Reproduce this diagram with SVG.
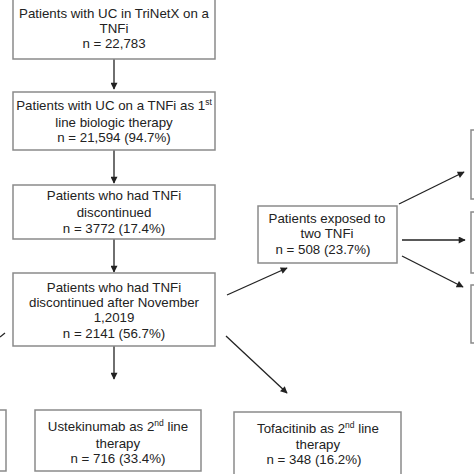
<svg xmlns="http://www.w3.org/2000/svg" width="474" height="474" viewBox="0 0 474 474">
<style>
.box{fill:#fff;stroke:#8a8a8a;stroke-width:1.5}
.t{font-family:"Liberation Sans",Arial,sans-serif;font-size:13.3px;fill:#222;text-anchor:middle}
.sup{font-size:8.5px}
.c{stroke:#222;stroke-width:1.3;fill:none;marker-end:url(#ah)}
</style>
<defs>
<marker id="ah" viewBox="0 0 10 10" refX="9" refY="5" markerWidth="8" markerHeight="7" markerUnits="userSpaceOnUse" orient="auto">
<path d="M0,0 L10,5 L0,10 z" fill="#222"/>
</marker>
</defs>
<rect width="474" height="474" fill="#fff"/>
<g id="connectors">
<line class="c" x1="114" y1="59" x2="114" y2="89"/>
<line class="c" x1="114" y1="150" x2="114" y2="183"/>
<line class="c" x1="114" y1="239" x2="114" y2="272"/>
<line class="c" x1="114" y1="346" x2="114" y2="379"/>
<line class="c" x1="227" y1="295" x2="287" y2="268"/>
<line class="c" x1="226" y1="336" x2="287" y2="393"/>
<line class="c" x1="399" y1="204" x2="464" y2="172"/>
<line class="c" x1="402" y1="240" x2="465" y2="240"/>
<line class="c" x1="402" y1="256" x2="463" y2="287"/>
<line stroke="#222" stroke-width="1.3" x1="5" y1="333" x2="0" y2="337"/>
</g>
<g id="n1">
<rect class="box" x="13" y="-3" width="202" height="62"/>
<text class="t" x="114" y="18">Patients with UC in TriNetX on a</text>
<text class="t" x="114" y="33">TNFi</text>
<text class="t" x="114" y="48">n = 22,783</text>
</g>
<g id="n2">
<rect class="box" x="13" y="92" width="202" height="58"/>
<text class="t" x="114" y="110">Patients with UC on a TNFi as 1<tspan class="sup" dy="-5">st</tspan></text>
<text class="t" x="114" y="127">line biologic therapy</text>
<text class="t" x="114" y="142">n = 21,594 (94.7%)</text>
</g>
<g id="n3">
<rect class="box" x="13" y="185" width="202" height="54"/>
<text class="t" x="114" y="200">Patients who had TNFi</text>
<text class="t" x="114" y="217">discontinued</text>
<text class="t" x="114" y="233">n = 3772 (17.4%)</text>
</g>
<g id="n4">
<rect class="box" x="13" y="273" width="202" height="73"/>
<text class="t" x="114" y="292">Patients who had TNFi</text>
<text class="t" x="114" y="307">discontinued after November</text>
<text class="t" x="114" y="322">1,2019</text>
<text class="t" x="114" y="338">n = 2141 (56.7%)</text>
</g>
<g id="n5">
<rect class="box" x="258" y="206" width="139" height="57"/>
<text class="t" x="327" y="223">Patients exposed to</text>
<text class="t" x="327" y="238">two TNFi</text>
<text class="t" x="323" y="254">n = 508 (23.7%)</text>
</g>
<g id="n6">
<rect class="box" x="471" y="130" width="20" height="69"/>
</g>
<g id="n7">
<rect class="box" x="471" y="212" width="20" height="61"/>
</g>
<g id="n8">
<rect class="box" x="471" y="285" width="20" height="58"/>
</g>
<g id="n9">
<rect class="box" x="-20" y="410" width="26" height="61"/>
</g>
<g id="n10">
<rect class="box" x="35" y="410" width="166" height="61"/>
<text class="t" x="118" y="431">Ustekinumab as 2<tspan class="sup" dy="-5">nd</tspan><tspan dy="5"> line</tspan></text>
<text class="t" x="118" y="448">therapy</text>
<text class="t" x="118" y="463">n = 716 (33.4%)</text>
</g>
<g id="n11">
<rect class="box" x="234" y="412" width="167" height="70"/>
<text class="t" x="318" y="433">Tofacitinib as 2<tspan class="sup" dy="-5">nd</tspan><tspan dy="5"> line</tspan></text>
<text class="t" x="318" y="449">therapy</text>
<text class="t" x="314" y="464">n = 348 (16.2%)</text>
</g>
</svg>
